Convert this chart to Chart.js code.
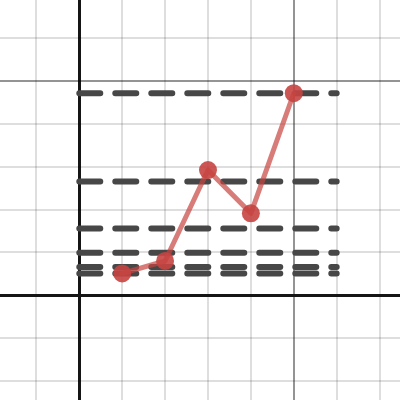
<!DOCTYPE html>
<html>
<head>
<meta charset="utf-8">
<script src="https://cdn.jsdelivr.net/npm/chart.js@4"></script>
<style>
  html, body { margin: 0; padding: 0; background: #fff; }
  #wrap { width: 400px; height: 400px; }
</style>
</head>
<body>
<div id="wrap"><canvas id="graph"></canvas></div>
<script>
// Points of the red series
const seriesX = [1, 2, 3, 4, 5];
const seriesY = [0.51, 0.80, 2.92, 1.91, 4.71];

// Horizontal dashed reference levels, drawn from x = 0 to x = 6
const levels = [4.71, 2.65, 1.56, 0.99, 0.66, 0.51];
const levelFrom = 0;
const levelTo = 6;

// Grid lines (one unit apart, darker every 5)
const gridX = [-1, 0, 1, 2, 3, 4, 5, 6, 7];
const gridY = [-2, -1, 0, 1, 2, 3, 4, 5, 6];

// Visible window
const viewX = [-1.848, 7.476];
const viewY = [-2.44, 6.883];

function gridColor(ctx) {
  const v = ctx.tick.value;
  if (v === 0) return '#151515';
  if (v % 5 === 0) return 'rgba(0,0,0,0.42)';
  return 'rgba(0,0,0,0.13)';
}

function gridWidth(ctx) {
  return ctx.tick.value === 0 ? 3 : 2;
}

function axisOpts(range, ticks) {
  return {
    type: 'linear',
    min: range[0],
    max: range[1],
    afterBuildTicks: s => { s.ticks = ticks.map(v => ({ value: v })); },
    ticks: { display: false },
    grid: { color: gridColor, lineWidth: gridWidth, drawTicks: false },
    border: { display: false }
  };
}

const levelSets = levels.map(y => ({
  data: [{ x: levelFrom, y: y }, { x: levelTo, y: y }],
  borderColor: '#474747',
  borderWidth: 6,
  borderDash: [21, 15],
  borderCapStyle: 'round',
  pointRadius: 0,
  fill: false
}));

new Chart(document.getElementById('graph').getContext('2d'), {
  type: 'line',
  data: {
    datasets: [{
      data: seriesX.map((x, i) => ({ x: x, y: seriesY[i] })),
      borderColor: 'rgba(199,68,64,0.7)',
      borderWidth: 5,
      borderJoinStyle: 'round',
      borderCapStyle: 'round',
      pointRadius: 9,
      pointBackgroundColor: 'rgba(199,68,64,0.9)',
      pointBorderWidth: 0,
      tension: 0,
      fill: false
    }].concat(levelSets)
  },
  options: {
    responsive: true,
    maintainAspectRatio: false,
    animation: false,
    layout: { padding: 0, autoPadding: false },
    plugins: { legend: { display: false }, tooltip: { enabled: false } },
    scales: {
      x: axisOpts(viewX, gridX),
      y: axisOpts(viewY, gridY)
    }
  }
});
</script>
</body>
</html>
